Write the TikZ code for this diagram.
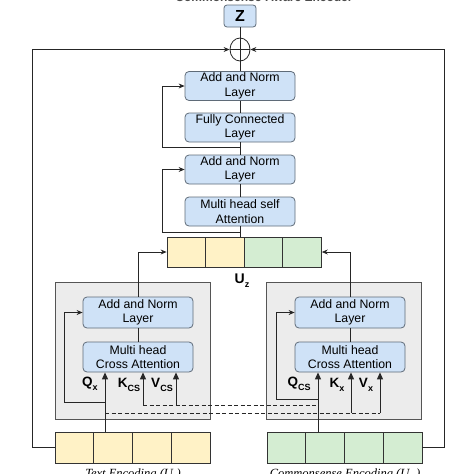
\documentclass[tikz,border=0pt]{standalone}
\usepackage{fontspec}
\setmainfont{Liberation Sans}
\newfontfamily\capfont{Liberation Serif}
\usetikzlibrary{arrows.meta,shapes.geometric}
\definecolor{bluef}{HTML}{CFE2F7}
\definecolor{bordc}{HTML}{5F6B78}
\definecolor{grayf}{HTML}{ECECEC}
\definecolor{grayd}{HTML}{555555}
\definecolor{yelf}{HTML}{FFF2C6}
\definecolor{grnf}{HTML}{D4EDD2}
\newcommand{\qkv}[2]{{\bfseries #1\raisebox{-3.5pt}{\fontsize{9}{9}\selectfont #2}}}
\tikzset{
  blk/.style={draw=bordc, fill=bluef, rounded corners=4pt, minimum width=110pt, minimum height=29pt, inner sep=0pt, align=center, font=\fontsize{12.3}{14.5}\selectfont, line width=0.8pt},
  grp/.style={draw=grayd, fill=grayf, minimum width=155pt, minimum height=137pt, inner sep=0pt, line width=0.9pt},
  ycell/.style={draw=black!80, fill=yelf, minimum width=38.6pt, minimum height=30pt, inner sep=0pt, line width=0.8pt},
  gcell/.style={draw=black!80, fill=grnf, minimum width=38.6pt, minimum height=30pt, inner sep=0pt, line width=0.8pt},
  ln/.style={draw=black!85, line width=0.8pt},
  arr/.style={ln, -{Stealth[length=6pt,width=5pt,inset=2pt]}},
  big/.style={ln, line width=1pt, -{Triangle[length=7pt,width=6pt]}},
  dsh/.style={ln, dashed, dash pattern=on 4pt off 2.5pt},
  lab/.style={inner sep=0pt, font=\fontsize{13.5}{13.5}\selectfont},
}
\begin{document}
\begin{tikzpicture}[x=1pt,y=-1pt]
\useasboundingbox (0,0) rectangle (474,474);
% top caption (cut)
\node[text=black!70, font=\bfseries\fontsize{12}{12}\selectfont, anchor=base] (cap) at (264,1) {Commonsense-Aware Encoder};
% Z and plus
\node[draw=bordc, fill=bluef, rounded corners=3pt, minimum width=32pt, minimum height=22pt, inner sep=0pt, font=\bfseries\fontsize{16}{16}\selectfont, line width=0.8pt] (z) at (240,16) {Z};
\node[draw=black!85, ellipse, minimum width=20pt, minimum height=23pt, inner sep=0pt, line width=0.8pt] (plus) at (240,49.5) {};
\draw[ln] (plus.north) -- (plus.south) (plus.west) -- (plus.east);
% upper stack
\node[blk] (an1) at (240,86) {Add and Norm\\Layer};
\node[blk] (fc) at (240,127.5) {Fully Connected\\Layer};
\node[blk] (an2) at (240,169.5) {Add and Norm\\Layer};
\node[blk] (msa) at (240,211.5) {Multi head self\\Attention};
% Uz bar
\node[ycell] (uz1) at (186.3,252) {};
\node[ycell] (uz2) at (224.9,252) {};
\node[gcell] (uz3) at (263.5,252) {};
\node[gcell] (uz4) at (302.1,252) {};
\node[lab, font=\bfseries\fontsize{14}{14}\selectfont] (uzl) at (242,281) {U\raisebox{-4pt}{\fontsize{9}{9}\selectfont z}};
% group boxes
\node[grp] (lg) at (132.5,350.5) {};
\node[grp] (rg) at (344,350.5) {};
\node[blk, minimum height=31pt] (lan) at (138,312.5) {Add and Norm\\Layer};
\node[blk, minimum height=30pt] (lca) at (138,357) {Multi head\\Cross Attention};
\node[blk, minimum height=31pt] (ran) at (350,312.5) {Add and Norm\\Layer};
\node[blk, minimum height=30pt] (rca) at (350,357) {Multi head\\Cross Attention};
% bottom bars
\node[ycell, minimum width=38.75pt, minimum height=31pt] (lb1) at (74.4,447.5) {};
\node[ycell, minimum width=38.75pt, minimum height=31pt] (lb2) at (113.1,447.5) {};
\node[ycell, minimum width=38.75pt, minimum height=31pt] (lb3) at (151.9,447.5) {};
\node[ycell, minimum width=38.75pt, minimum height=31pt] (lb4) at (190.6,447.5) {};
\node[gcell, minimum width=38.75pt, minimum height=31pt] (rb1) at (286.4,447.5) {};
\node[gcell, minimum width=38.75pt, minimum height=31pt] (rb2) at (325.1,447.5) {};
\node[gcell, minimum width=38.75pt, minimum height=31pt] (rb3) at (363.9,447.5) {};
\node[gcell, minimum width=38.75pt, minimum height=31pt] (rb4) at (402.6,447.5) {};
\node[font=\capfont\itshape\fontsize{12.5}{12.5}\selectfont, anchor=base] (lt) at (133,477) {Text Encoding (U\raisebox{-3pt}{\fontsize{8}{8}\selectfont x})};
\node[font=\capfont\itshape\fontsize{12.5}{12.5}\selectfont, anchor=base] (rt) at (345,477) {Commonsense Encoding (U\raisebox{-3pt}{\fontsize{8}{8}\selectfont cs})};
% labels
\node[lab] (lq) at (90,384) {\qkv{Q}{x}};
\node[lab] (lk) at (129,385) {\qkv{K}{CS}};
\node[lab] (lv) at (162,385) {\qkv{V}{CS}};
\node[lab] (rq) at (299,384) {\qkv{Q}{CS}};
\node[lab] (rk) at (337,385) {\qkv{K}{x}};
\node[lab] (rv) at (366,385) {\qkv{V}{x}};
% coordinates
\coordinate (uzt) at (240,237);
\coordinate (r1) at (240,232);
\coordinate (r1x) at (162,232);
\coordinate (r2) at (240,147);
\coordinate (r2x) at (162,147);
\coordinate (ol) at (32,49.5);
\coordinate (or) at (444,49.5);
\coordinate (qxb) at (105,432);
\coordinate (qxr) at (105,402);
\coordinate (qxl) at (64,402);
\coordinate (kcb) at (143,405);
\coordinate (vcb) at (176,405);
\coordinate (qcb) at (318,432);
\coordinate (qcr) at (318,399);
\coordinate (qcl) at (276,399);
\coordinate (kxb) at (351,413);
\coordinate (vxb) at (380,413);
\coordinate (dq) at (105,413);
\coordinate (dc) at (318,405);
% upper connectors
\draw[ln] (z) -- (plus);
\draw[ln] (plus) -- (an1);
\draw[ln] (an1) -- (fc);
\draw[ln] (fc) -- (an2);
\draw[ln] (an2) -- (msa);
\draw[ln] (msa) -- (uzt);
\draw[arr] (r1) -- (r1x) |- (an2.west);
\draw[arr] (r2) -- (r2x) |- (an1.west);
\draw[arr] (lb1.west) -| (ol) -- (plus.west);
\draw[arr] (rb4.east) -| (or) -- (plus.east);
\draw[arr] (lan.north) |- (uz1.west);
\draw[arr] (ran.north) |- (uz4.east);
\draw[ln] (lan) -- (lca);
\draw[ln] (ran) -- (rca);
% dashed
\draw[dsh] (kcb) -- (dc);
\draw[dsh] (dq) -- (vxb);
% residuals in groups
\draw[arr] (qxr) -- (qxl) |- (lan.west);
\draw[arr] (qcr) -- (qcl) |- (ran.west);
% q k v arrows
\draw[big] (qxb) -- (qxb |- lca.south);
\draw[big] (kcb) -- (kcb |- lca.south);
\draw[big] (vcb) -- (vcb |- lca.south);
\draw[big] (qcb) -- (qcb |- rca.south);
\draw[big] (kxb) -- (kxb |- rca.south);
\draw[big] (vxb) -- (vxb |- rca.south);
\end{tikzpicture}
\end{document}
